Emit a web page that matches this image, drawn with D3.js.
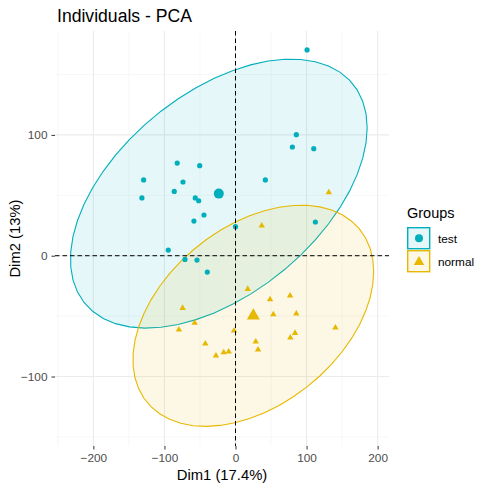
<!DOCTYPE html>
<html>
<head>
<meta charset="utf-8">
<script src="https://cdn.jsdelivr.net/npm/d3@7"></script>
<style>
  body { margin: 0; background: #fff; }
  text { font-family: "Liberation Sans", Arial, sans-serif; }
</style>
</head>
<body>
<svg id="chart"></svg>
<script>
// Individuals (Dim1, Dim2)
const testDim1 = [-82.0, -50.4, -129.3, -73.9, -86.2, -131.7, -56.6, -51.8, -44.4, -58.5,
  -94.6, -71.1, -54.2, 0.0, 112.4, -39.7, 100.7, 85.6, 80.0, 110.1, 42.0];
const testDim2 = [76.7, 74.5, 62.7, 61.0, 53.2, 47.8, 47.8, 45.5, 33.7, 28.7,
  4.7, -3.1, -3.6, 24.0, 27.9, -13.5, 170.3, 100.2, 90.0, 88.6, 62.7];

const normalDim1 = [36.9, 17.2, 48.6, 76.8, -74.4, 53.2, 85.6, -57.5, -79.6, -2.1,
  140.6, 83.8, 77.2, 28.5, -42.5, 31.7, -16.6, -9.6, -27.5, 131.3];
const normalDim2 = [24.8, -27.6, -36.2, -33.1, -43.3, -48.6, -48.0, -55.7, -61.3, -62.1,
  -59.6, -64.0, -67.9, -71.2, -72.8, -77.8, -80.0, -79.5, -82.8, 52.4];

const groupNames = ["test", "normal"];
const groupColors = ["#00AFBB", "#E7B800"];
const xTicks = [-200, -100, 0, 100, 200];
const yTicks = [-100, 0, 100];
const xMinor = [-250, -150, -50, 50, 150];
const yMinor = [-150, -50, 50, 150];

const width = 489, height = 490;
const panel = { left: 55, right: 389, top: 31, bottom: 446 };

const svg = d3.select("#chart").attr("width", width).attr("height", height);
svg.append("rect").attr("width", width).attr("height", height).attr("fill", "#fff");

const x = d3.scaleLinear().domain([-254, 216]).range([panel.left, panel.right]);
const y = d3.scaleLinear().domain([-157.5, 186]).range([panel.bottom, panel.top]);

const groups = [
  { name: groupNames[0], color: groupColors[0], shape: "circle",
    pts: testDim1.map((d, i) => [d, testDim2[i]]) },
  { name: groupNames[1], color: groupColors[1], shape: "triangle",
    pts: normalDim1.map((d, i) => [d, normalDim2[i]]) }
];

// 95% normal data ellipse, same recipe as stat_ellipse(type = "norm")
const dataEllipse = (pts) => {
  const n = pts.length;
  const mx = d3.mean(pts, (p) => p[0]);
  const my = d3.mean(pts, (p) => p[1]);
  let sxx = 0, syy = 0, sxy = 0;
  pts.forEach((p) => {
    sxx += (p[0] - mx) ** 2;
    syy += (p[1] - my) ** 2;
    sxy += (p[0] - mx) * (p[1] - my);
  });
  sxx /= n - 1; syy /= n - 1; sxy /= n - 1;
  // cholesky (upper)
  const a = Math.sqrt(sxx), b = sxy / a, c = Math.sqrt(syy - b * b);
  // F quantile with 2 numerator df has a closed form
  const dfd = n - 1;
  const qf = (dfd / 2) * (Math.pow(0.05, -2 / dfd) - 1);
  const r = Math.sqrt(2 * qf);
  const seg = 51;
  return d3.range(seg + 1).map((k) => {
    const t = (k * 2 * Math.PI) / seg;
    const u = Math.cos(t), v = Math.sin(t);
    return [mx + r * a * u, my + r * (b * u + c * v)];
  });
};

// grid
const grid = svg.append("g");
xMinor.forEach((v) => grid.append("line")
  .attr("x1", x(v)).attr("x2", x(v)).attr("y1", panel.top).attr("y2", panel.bottom)
  .attr("stroke", "#F2F2F2").attr("stroke-width", 0.6));
yMinor.forEach((v) => grid.append("line")
  .attr("x1", panel.left).attr("x2", panel.right).attr("y1", y(v)).attr("y2", y(v))
  .attr("stroke", "#F2F2F2").attr("stroke-width", 0.6));
xTicks.forEach((v) => grid.append("line")
  .attr("x1", x(v)).attr("x2", x(v)).attr("y1", panel.top).attr("y2", panel.bottom)
  .attr("stroke", "#EBEBEB").attr("stroke-width", 1.1));
yTicks.forEach((v) => grid.append("line")
  .attr("x1", panel.left).attr("x2", panel.right).attr("y1", y(v)).attr("y2", y(v))
  .attr("stroke", "#EBEBEB").attr("stroke-width", 1.1));

// ellipses
const line = d3.line().x((p) => x(p[0])).y((p) => y(p[1]));
groups.forEach((g) => {
  svg.append("path")
    .attr("d", line(dataEllipse(g.pts)) + "Z")
    .attr("fill", g.color).attr("fill-opacity", 0.1)
    .attr("stroke", g.color).attr("stroke-width", 1.1);
});

const triPath = (w) => {
  const h = w * Math.sqrt(3) / 2;
  return `M0,${-2 * h / 3}L${w / 2},${h / 3}L${-w / 2},${h / 3}Z`;
};

// points + group means
groups.forEach((g) => {
  const layer = svg.append("g");
  const all = g.pts.map((p) => ({ p, big: false }));
  all.push({ p: [d3.mean(g.pts, (p) => p[0]), d3.mean(g.pts, (p) => p[1])], big: true });
  all.forEach((d) => {
    if (g.shape === "circle") {
      layer.append("circle")
        .attr("cx", x(d.p[0])).attr("cy", y(d.p[1]))
        .attr("r", d.big ? 5 : 2.6).attr("fill", g.color);
    } else {
      layer.append("path")
        .attr("d", triPath(d.big ? 13 : 6.4))
        .attr("transform", `translate(${x(d.p[0])},${y(d.p[1])})`)
        .attr("fill", g.color);
    }
  });
});

// reference lines
svg.append("line")
  .attr("x1", x(0)).attr("x2", x(0)).attr("y1", panel.top).attr("y2", panel.bottom)
  .attr("stroke", "#000").attr("stroke-width", 1).attr("stroke-dasharray", "4.5,3");
svg.append("line")
  .attr("x1", panel.left).attr("x2", panel.right).attr("y1", y(0)).attr("y2", y(0))
  .attr("stroke", "#000").attr("stroke-width", 1).attr("stroke-dasharray", "4.5,3");

// axes
const xAxis = svg.append("g")
  .attr("transform", `translate(0,${panel.bottom})`)
  .call(d3.axisBottom(x).tickValues(xTicks).tickSize(3.5).tickPadding(4));
const yAxis = svg.append("g")
  .attr("transform", `translate(${panel.left},0)`)
  .call(d3.axisLeft(y).tickValues(yTicks).tickSize(3.5).tickPadding(4));
[xAxis, yAxis].forEach((ax) => {
  ax.select(".domain").remove();
  ax.selectAll(".tick line").attr("stroke", "#333").attr("stroke-width", 1);
  ax.selectAll(".tick text")
    .attr("fill", "#4D4D4D")
    .style("font-size", "11.8px")
    .style("font-family", '"Liberation Sans", Arial, sans-serif');
});

// titles
svg.append("text")
  .attr("x", 57).attr("y", 22)
  .style("font-size", "17.6px").attr("fill", "#000")
  .text("Individuals - PCA");
svg.append("text")
  .attr("x", (panel.left + panel.right) / 2).attr("y", 480)
  .attr("text-anchor", "middle").style("font-size", "14.8px")
  .text("Dim1 (17.4%)");
svg.append("text")
  .attr("transform", `translate(20,${(panel.top + panel.bottom) / 2}) rotate(-90)`)
  .attr("text-anchor", "middle").style("font-size", "14.8px")
  .text("Dim2 (13%)");

// legend
const legend = svg.append("g").attr("transform", "translate(407,0)");
legend.append("text").attr("x", 0).attr("y", 218)
  .style("font-size", "14.5px").text("Groups");
groups.forEach((g, i) => {
  const top = 227 + i * 23;
  legend.append("rect")
    .attr("x", 0.7).attr("y", top + 0.7).attr("width", 22).attr("height", 21)
    .attr("fill", g.color).attr("fill-opacity", 0.1)
    .attr("stroke", g.color).attr("stroke-width", 1.4);
  if (g.shape === "circle") {
    legend.append("circle").attr("cx", 12).attr("cy", top + 11.3)
      .attr("r", 4).attr("fill", g.color);
  } else {
    legend.append("path").attr("d", triPath(10.5))
      .attr("transform", `translate(12,${top + 12})`).attr("fill", g.color);
  }
  legend.append("text").attr("x", 31).attr("y", top + 15.5)
    .style("font-size", "11.8px").text(g.name);
});
</script>
</body>
</html>
